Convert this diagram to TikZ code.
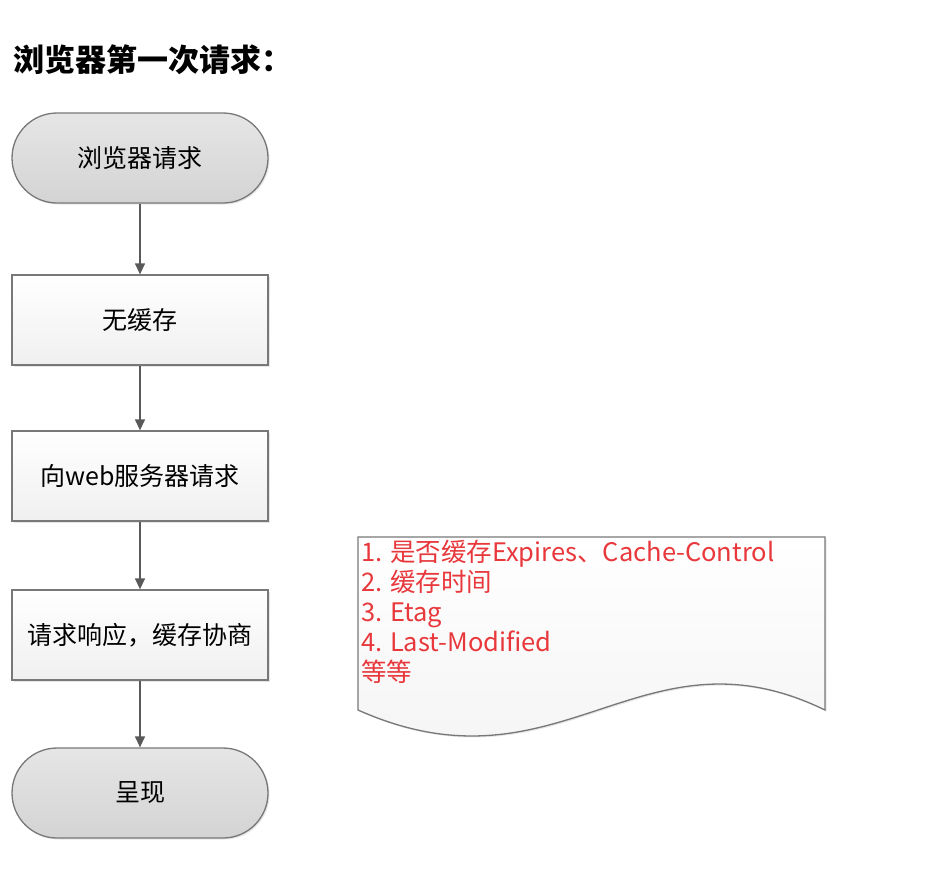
\documentclass[tikz,border=0pt]{standalone}
\usepackage{fontspec}
\setmainfont{Noto Sans CJK SC}
\usetikzlibrary{arrows.meta,shadows}
\definecolor{linegray}{RGB}{120,120,120}
\definecolor{notered}{RGB}{232,56,60}

\begin{document}
\begin{tikzpicture}[x=1pt,y=-1pt,
    box/.style={draw=linegray, line width=1.3pt, minimum width=256pt, minimum height=90pt,
      top color=white, bottom color=gray!12, font=\fontsize{25}{28}\selectfont,
      drop shadow={opacity=0.2, shadow xshift=1.5pt, shadow yshift=-1.5pt}},
    term/.style={box, rounded corners=45pt, top color=gray!20, bottom color=gray!34},
    flow/.style={draw=black!65, line width=1.3pt, -{Triangle[length=11pt,width=10pt]}}]
        \useasboundingbox (0,0) rectangle (940,868);
        \node[anchor=base west, font=\fontsize{31}{34}\selectfont\bfseries] (title) at (10,71) {浏览器第一次请求：};
        % main flow
        \node[term] (start) at (140,158) {浏览器请求};
        \node[box] (nocache) at (140,320) {无缓存};
        \node[box] (server) at (140,476) {向web服务器请求};
        \node[box] (resp) at (140,635) {请求响应，缓存协商};
        \node[term] (show) at (140,793) {呈现};
        \draw[flow] (start) -- (nocache);
        \draw[flow] (nocache) -- (server);
        \draw[flow] (server) -- (resp);
        \draw[flow] (resp) -- (show);
        % note sheet with wavy bottom
        \draw[linegray, line width=1.3pt, top color=white, bottom color=gray!10,
          drop shadow={opacity=0.2, shadow xshift=1.5pt, shadow yshift=-1.5pt}]
          (358,537) -- (825,537) -- (825,710)
          .. controls (640,620) and (560,800) .. (358,710) -- cycle;
        \node[anchor=north west, inner sep=0pt, align=left, text=notered,
          font=\fontsize{25.5}{30}\selectfont] (note) at (361,540)
          {1. 是否缓存Expires、Cache-Control\\2. 缓存时间\\3. Etag\\4. Last-Modified\\等等};
      \end{tikzpicture}
\end{document}
